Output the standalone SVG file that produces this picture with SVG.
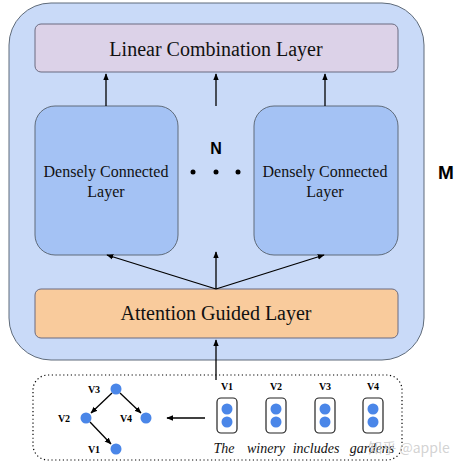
<svg xmlns="http://www.w3.org/2000/svg" width="460" height="468" viewBox="0 0 460 468">
<style>
.serif{font-family:"Liberation Serif","Times New Roman","DejaVu Serif",serif;fill:#111}
.sans{font-family:"Liberation Sans",Arial,sans-serif;font-weight:bold;fill:#000}
.conn{stroke:#000;stroke-width:1.3;fill:none}
.dot{fill:#4a86e8}
.lbl{font-family:"Liberation Serif","Times New Roman",serif;font-weight:bold;font-size:10px;fill:#000;text-anchor:middle}
.word{font-family:"Liberation Serif","Times New Roman",serif;font-style:italic;font-size:14px;fill:#111;text-anchor:middle}
</style>
<defs>
<marker id="ah" viewBox="0 0 10 10" refX="9" refY="5" markerWidth="7" markerHeight="7" orient="auto" markerUnits="userSpaceOnUse">
<path d="M0,1 L10,5 L0,9 z" fill="#000"/>
</marker>
</defs>
<rect width="460" height="468" fill="#fff"/>
<g id="outer">
<rect x="9" y="3" width="415" height="357" rx="42" fill="#c9daf8" stroke="#5f6b7a" stroke-width="1"/>
<text class="sans" x="446" y="179" font-size="19" text-anchor="middle">M</text>
</g>
<g id="linear">
<rect x="35" y="24" width="363" height="48" rx="6" fill="#dcd2e8" stroke="#6b6b80" stroke-width="1"/>
<text class="serif" x="216" y="56" font-size="20" text-anchor="middle">Linear Combination Layer</text>
</g>
<g id="dense1">
<rect x="35" y="106" width="143" height="149" rx="20" fill="#a4c2f4" stroke="#5f6b7a" stroke-width="1"/>
<text class="serif" x="106" y="177" font-size="16" text-anchor="middle">Densely Connected</text>
<text class="serif" x="106" y="197" font-size="16" text-anchor="middle">Layer</text>
</g>
<g id="dense2">
<rect x="254" y="106" width="144" height="149" rx="20" fill="#a4c2f4" stroke="#5f6b7a" stroke-width="1"/>
<text class="serif" x="325" y="177" font-size="16" text-anchor="middle">Densely Connected</text>
<text class="serif" x="325" y="197" font-size="16" text-anchor="middle">Layer</text>
</g>
<g id="ellipsis">
<text class="sans" x="216" y="154" font-size="16" text-anchor="middle">N</text>
<circle cx="193" cy="172" r="2.5" fill="#000"/>
<circle cx="216" cy="172" r="2.5" fill="#000"/>
<circle cx="238" cy="172" r="2.5" fill="#000"/>
</g>
<g id="attention">
<rect x="35" y="289" width="363" height="49" rx="6" fill="#f9cb9c" stroke="#6b6b80" stroke-width="1"/>
<text class="serif" x="216" y="320" font-size="20" text-anchor="middle">Attention Guided Layer</text>
</g>
<g id="input">
<rect x="33" y="375" width="369" height="85" rx="15" fill="#fff" stroke="#000" stroke-width="1.2" stroke-dasharray="1.2,2.6"/>
</g>
<g id="graph">
<circle class="dot" cx="116" cy="389" r="5.5"/>
<circle class="dot" cx="86" cy="418" r="5.5"/>
<circle class="dot" cx="146" cy="418" r="5.5"/>
<circle class="dot" cx="116" cy="449" r="5.5"/>
<text class="lbl" x="94" y="393">V3</text>
<text class="lbl" x="64" y="422">V2</text>
<text class="lbl" x="126" y="422">V4</text>
<text class="lbl" x="94" y="453">V1</text>
</g>
<g id="tokens">
<g id="tok1">
<text class="lbl" x="227" y="390">V1</text>
<rect x="217" y="398" width="20" height="35" rx="4" fill="#fff" stroke="#222" stroke-width="1.2"/>
<circle class="dot" cx="227" cy="409" r="5.5"/><circle class="dot" cx="227" cy="422" r="5.5"/>
</g>
<g id="tok2">
<text class="lbl" x="276" y="390">V2</text>
<rect x="266" y="398" width="20" height="35" rx="4" fill="#fff" stroke="#222" stroke-width="1.2"/>
<circle class="dot" cx="276" cy="409" r="5.5"/><circle class="dot" cx="276" cy="422" r="5.5"/>
</g>
<g id="tok3">
<text class="lbl" x="325" y="390">V3</text>
<rect x="315" y="398" width="20" height="35" rx="4" fill="#fff" stroke="#222" stroke-width="1.2"/>
<circle class="dot" cx="325" cy="409" r="5.5"/><circle class="dot" cx="325" cy="422" r="5.5"/>
</g>
<g id="tok4">
<text class="lbl" x="373" y="390">V4</text>
<rect x="363" y="398" width="20" height="35" rx="4" fill="#fff" stroke="#222" stroke-width="1.2"/>
<circle class="dot" cx="373" cy="409" r="5.5"/><circle class="dot" cx="373" cy="422" r="5.5"/>
</g>
<text class="word" x="224" y="453">The</text>
<text class="word" x="266" y="453">winery</text>
<text class="word" x="316" y="453">includes</text>
<text class="word" x="372" y="453">gardens</text>
</g>
<g id="watermark">
<text x="409" y="453" font-family="'Noto Sans CJK SC','Liberation Sans',sans-serif" font-size="14" fill="#c8c8c8" fill-opacity="0.8" text-anchor="middle">知乎 @apple</text>
</g>
<g id="connectors">
<line class="conn" x1="106" y1="106" x2="106" y2="74" marker-end="url(#ah)"/>
<line class="conn" x1="216" y1="106" x2="216" y2="74" marker-end="url(#ah)"/>
<line class="conn" x1="325" y1="106" x2="325" y2="74" marker-end="url(#ah)"/>
<line class="conn" x1="216" y1="289" x2="107" y2="255" marker-end="url(#ah)"/>
<line class="conn" x1="216" y1="289" x2="216" y2="252" marker-end="url(#ah)"/>
<line class="conn" x1="216" y1="289" x2="324" y2="255" marker-end="url(#ah)"/>
<line class="conn" x1="216" y1="380" x2="216" y2="340" marker-end="url(#ah)"/>
<line class="conn" x1="205" y1="418" x2="167" y2="418" marker-end="url(#ah)"/>
<line class="conn" x1="112" y1="393" x2="91" y2="413" marker-end="url(#ah)"/>
<line class="conn" x1="120" y1="393" x2="141" y2="413" marker-end="url(#ah)"/>
<line class="conn" x1="90" y1="422" x2="111" y2="444" marker-end="url(#ah)"/>
</g>
</svg>
